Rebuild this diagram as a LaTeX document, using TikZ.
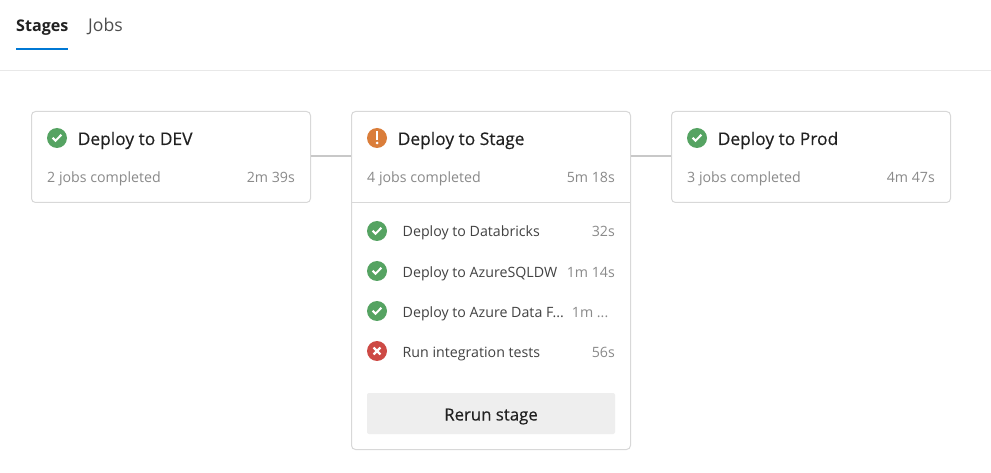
\documentclass[tikz,border=0pt]{standalone}
\usepackage{fontspec}
\setmainfont{Open Sans}
\newfontfamily\medfont[FakeBold=0.25]{Open Sans}
\usepackage{tikz}
\newcommand{\cutoff}{...}
\definecolor{inkc}{HTML}{212121}
\definecolor{mutedc}{HTML}{8A8A8A}
\definecolor{edgec}{HTML}{D8D8D8}
\definecolor{linkc}{HTML}{C8C8C8}
\definecolor{okc}{HTML}{55A362}
\definecolor{warnc}{HTML}{DA7D3A}
\definecolor{failc}{HTML}{CD4A45}
\definecolor{tabc}{HTML}{0078D4}
\tikzset{
  card/.style={draw=edgec, line width=1pt, rounded corners=4pt, fill=white, minimum width=279pt, inner sep=0pt},
  link/.style={draw=linkc, line width=2.4pt},
  title/.style={anchor=base west, inner sep=0pt, text=inkc, font=\fontsize{17.4}{20}\medfont},
  muted/.style={anchor=base west, inner sep=0pt, text=mutedc, font=\fontsize{14.2}{17}\selectfont},
  mutedr/.style={anchor=base east, inner sep=0pt, text=mutedc, font=\fontsize{14.2}{17}\selectfont},
  rowtext/.style={anchor=base west, inner sep=0pt, text=inkc!85, font=\fontsize{14.2}{17}\selectfont},
  icon/.style={circle, minimum size=20pt, inner sep=0pt},
  ok/.style={icon, fill=okc, path picture={
    \draw[white, line width=2pt] ([shift={(-4.4pt,0.3pt)}]path picture bounding box.center)
      -- ++(3pt,-3pt) -- ++(5.8pt,6pt);}},
  fail/.style={icon, fill=failc, path picture={
    \draw[white, line width=2.2pt] ([shift={(-3.4pt,-3.4pt)}]path picture bounding box.center) -- ++(6.8pt,6.8pt)
      ([shift={(-3.4pt,3.4pt)}]path picture bounding box.center) -- ++(6.8pt,-6.8pt);}},
  warn/.style={icon, fill=warnc, path picture={
    \draw[white, line width=2.4pt] ([yshift=6.5pt]path picture bounding box.center) -- ++(0,-8.5pt);
    \fill[white] ([yshift=-5pt]path picture bounding box.center) circle (1.5pt);}},
}
\begin{document}
\begin{tikzpicture}
  [x=1pt, y=-1pt]
  \useasboundingbox (0, 0) rectangle (991, 473);

  % tabs
  \node[title, font=\fontsize{16.1}{20}\selectfont\bfseries] (stages) at (16, 32) {Stages};
  \node[title, text=inkc!80, font=\fontsize{17.6}{20}\selectfont] (jobs) at (88, 32) {Jobs};
  \coordinate (tabl) at (16, 49);
  \coordinate (tabr) at (68, 49);
  \draw[tabc, line width=2pt] (tabl) -- (tabr);
  \coordinate (rulel) at (0, 70.5);
  \coordinate (ruler) at (991, 70.5);
  \draw[edgec!60, line width=1pt] (rulel) -- (ruler);

  % stage cards
  \node[card, minimum height=91pt] (dev) at (171, 157) {};
  \node[card, minimum height=338pt] (stage) at (491, 280.5) {};
  \node[card, minimum height=91pt] (prod) at (811, 157) {};

  \coordinate (stagein) at (351, 156);
  \coordinate (stageout) at (631, 156);
  \coordinate (devout) at (311, 156);
  \coordinate (prodin) at (671, 156);
  \foreach \from/\to in {devout/stagein,stageout/prodin}
  \draw[link] (\from) -- (\to);

  \coordinate (divl) at (351.5, 202.5);
  \coordinate (divr) at (630.5, 202.5);
  \draw[edgec, line width=1pt] (divl) -- (divr);

  % card headers
  \foreach \id/\x/\kind/\name/\jobs/\time in {
    dev/57/ok/Deploy to DEV/2 jobs completed/2m 39s,
    stage/377/warn/Deploy to Stage/4 jobs completed/5m 18s,
    prod/697/ok/Deploy to Prod/3 jobs completed/4m 47s}
  {
    \node[\kind] (\id icon) at (\x, 138) {};
    \node[title] (\id name) at (\x+20.5, 145) {\name};
    \node[muted] (\id jobs) at (\x-10, 183) {\jobs};
    \node[mutedr] (\id time) at (\x+238, 183) {\time};
  }

  % jobs of the stage
  \foreach \id/\y/\kind/\name/\time/\right in {
    a/231/ok/Deploy to Databricks/32s/615,
    b/271/ok/Deploy to AzureSQLDW/1m 14s/615,
    c/311/ok/Deploy to Azure Data F\cutoff/1m \cutoff/608.5,
    d/351/fail/Run integration tests/56s/615}
  {
    \node[\kind] (job\id icon) at (377, \y) {};
    \node[rowtext] (job\id name) at (402.5, \y+6) {\name};
    \node[mutedr] (job\id time) at (\right, \y+6) {\time};
  }

  \node[fill=black!6.5, rounded corners=2pt, minimum width=248pt, minimum height=41pt, inner sep=0pt] (rerun) at (491, 413.5) {};
  \node[anchor=base, inner sep=0pt, text=inkc, font=\fontsize{16.8}{20}\medfont] (reruntext) at (491, 420.5) {Rerun stage};
\end{tikzpicture}
\end{document}
